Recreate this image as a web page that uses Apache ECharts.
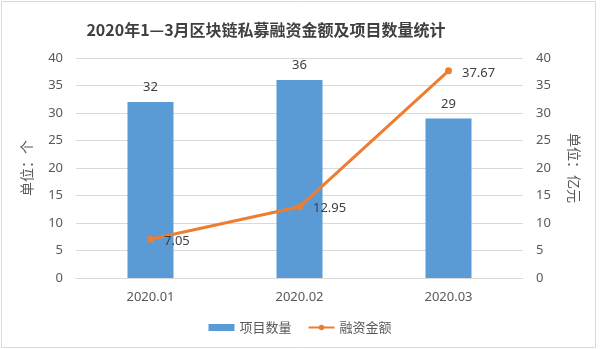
<!DOCTYPE html>
<html>
<head>
<meta charset="utf-8">
<script src="https://cdn.jsdelivr.net/npm/echarts@6/dist/echarts.min.js"></script>
<style>
  html, body { margin: 0; padding: 0; background: #fff; }
  #chart { width: 600px; height: 349px; }
</style>
</head>
<body>
<div id="chart"></div>
<script>
// Monthly blockchain private financing, Jan–Mar 2020
const months = ['2020.01', '2020.02', '2020.03'];
const projectCounts = [32, 36, 29];          // number of projects (left axis)
const fundingAmounts = [7.05, 12.95, 37.67]; // amount raised, 100M CNY (right axis)
const leftTicks = { min: 0, max: 40, interval: 5 };
const rightTicks = { min: 0, max: 40, interval: 5 };

const textColor = '#595959';
const cjk = '"Noto Sans CJK SC", "Noto Sans", sans-serif';
const latin = '"Noto Sans", sans-serif';

const chart = echarts.init(document.getElementById('chart'), null, { renderer: 'canvas' });

chart.setOption({
  backgroundColor: '#fff',
  animation: false,
  textStyle: { fontFamily: cjk },
  title: {
    text: '2020年1—3月区块链私募融资金额及项目数量统计',
    left: 261,
    textAlign: 'center',
    top: 17,
    textStyle: { fontSize: 16, fontWeight: 'bold', color: '#404040', fontFamily: cjk }
  },
  grid: { left: 76, right: 77, top: 58, bottom: 71, containLabel: false },
  legend: {
    bottom: 10,
    left: 'center',
    itemWidth: 26,
    itemHeight: 7,
    itemGap: 16,
    textStyle: { fontSize: 13, color: textColor, fontFamily: cjk },
    data: [
      { name: '项目数量', icon: 'rect' },
      { name: '融资金额' }
    ]
  },
  xAxis: {
    type: 'category',
    data: months,
    axisLine: { show: true, lineStyle: { color: '#d9d9d9' } },
    axisTick: { show: false },
    axisLabel: { color: textColor, fontSize: 13, margin: 13, fontFamily: latin }
  },
  yAxis: [
    {
      type: 'value',
      min: leftTicks.min, max: leftTicks.max, interval: leftTicks.interval,
      name: '单位：个',
      nameLocation: 'middle',
      nameRotate: 90,
      nameGap: 42,
      nameTextStyle: { fontSize: 14, color: textColor, fontFamily: cjk },
      axisLine: { show: false },
      axisTick: { show: false },
      axisLabel: { color: textColor, fontSize: 13, margin: 13, fontFamily: latin },
      splitLine: { lineStyle: { color: '#d9d9d9', width: 1 } }
    },
    {
      type: 'value',
      min: rightTicks.min, max: rightTicks.max, interval: rightTicks.interval,
      name: '单位：亿元',
      nameLocation: 'middle',
      nameRotate: -90,
      nameGap: 44,
      nameTextStyle: { fontSize: 14, color: textColor, fontFamily: cjk },
      axisLine: { show: false },
      axisTick: { show: false },
      axisLabel: { color: textColor, fontSize: 13, margin: 13, fontFamily: latin },
      splitLine: { show: false }
    }
  ],
  series: [
    {
      name: '项目数量',
      type: 'bar',
      yAxisIndex: 0,
      data: projectCounts,
      barWidth: 46,
      itemStyle: { color: '#5B9BD5' },
      label: {
        show: true, position: 'top', distance: 8,
        color: '#404040', fontSize: 13, fontFamily: latin
      }
    },
    {
      name: '融资金额',
      type: 'line',
      yAxisIndex: 1,
      data: fundingAmounts,
      symbol: 'circle',
      symbolSize: 7,
      lineStyle: { color: '#ED7D31', width: 3 },
      itemStyle: { color: '#ED7D31' },
      label: {
        show: true, position: 'right', distance: 10, offset: [0, 2],
        color: '#404040', fontSize: 13, fontFamily: latin
      },
      z: 5
    }
  ],
  graphic: [
    {
      type: 'rect',
      shape: { x: 1.5, y: 1.5, width: 594, height: 346 },
      style: { fill: 'none', stroke: '#d9d9d9', lineWidth: 1 },
      silent: true
    }
  ]
});
</script>
</body>
</html>
